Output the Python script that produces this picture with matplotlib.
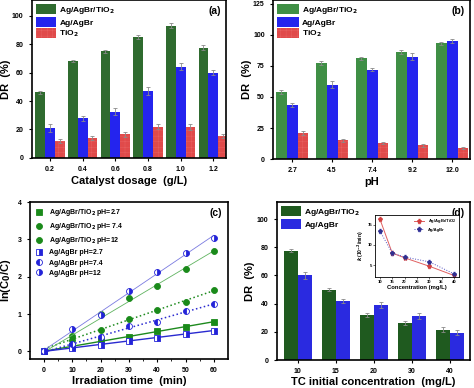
import numpy as np
import matplotlib
matplotlib.use('Agg')
import matplotlib.pyplot as plt

plt.rcParams['font.family'] = ['Liberation Sans', 'DejaVu Sans']
plt.rcParams['font.weight'] = 'bold'
plt.rcParams['axes.labelweight'] = 'bold'
plt.rcParams['axes.linewidth'] = 1.2
plt.rcParams['xtick.major.width'] = 0.8
plt.rcParams['ytick.major.width'] = 0.8
plt.rcParams['xtick.major.size'] = 2.5
plt.rcParams['ytick.major.size'] = 2.5
plt.rcParams['xtick.labelsize'] = 5
plt.rcParams['ytick.labelsize'] = 5
plt.rcParams['hatch.linewidth'] = 0.3

# (a) catalyst dosage
dosage = ['0.2', '0.4', '0.6', '0.8', '1.0', '1.2']
dr_a_comp = [46, 68, 75, 85, 93, 77.5]
dr_a_agbr = [21, 28, 32.5, 47, 64, 60]
dr_a_tio2 = [12, 14, 16.5, 22, 21.5, 15.5]
err_a_comp = [1.2, 0.8, 1.2, 1.5, 1.8, 1.8]
err_a_agbr = [2.5, 1.8, 2.5, 2.5, 2.5, 1.8]
err_a_tio2 = [1.2, 1.5, 1.8, 1.8, 2.0, 1.2]

# (b) pH
ph = ['2.7', '4.5', '7.4', '9.2', '12.0']
dr_b_comp = [54, 77.5, 81, 86, 93]
dr_b_agbr = [43.5, 60, 72, 82.5, 95]
dr_b_tio2 = [21, 15, 13, 11, 9]
err_b_comp = [1.5, 1.5, 1.0, 1.5, 1.5]
err_b_agbr = [1.5, 2.5, 1.5, 3.0, 2.0]
err_b_tio2 = [1.5, 1.5, 1.0, 1.0, 1.0]

# (c) kinetics
t_irr = [0, 10, 20, 30, 40, 50, 60]
c_comp_27 = [0, 0.14, 0.27, 0.4, 0.55, 0.66, 0.79]
c_comp_74 = [0, 0.42, 0.58, 0.86, 1.11, 1.32, 1.65]
c_comp_12 = [0, 0.3, 1.0, 1.43, 1.75, 2.2, 2.7]
c_agbr_27 = [0, 0.1, 0.18, 0.29, 0.37, 0.47, 0.56]
c_agbr_74 = [0, 0.2, 0.38, 0.67, 0.8, 1.09, 1.27]
c_agbr_12 = [0, 0.6, 0.98, 1.62, 2.13, 2.63, 3.05]

# (d) initial concentration
conc = ['10', '15', '20', '30', '40']
dr_d_comp = [77.5, 50, 32, 26.5, 21.5]
dr_d_agbr = [60, 42, 39, 31.5, 19.5]
err_d_comp = [1.2, 1.2, 1.5, 1.5, 1.8]
err_d_agbr = [2.2, 1.5, 2.0, 2.2, 1.5]
inset_conc = [10, 15, 20, 30, 40]
k_comp = [16.5, 8.0, 6.8, 4.7, 2.4]
k_agbr = [13.5, 8.0, 7.0, 5.8, 2.8]

lab_comp = 'Ag/AgBr/TiO$_2$'
lab_agbr = 'Ag/AgBr'
lab_tio2 = 'TiO$_2$'
green_a = '#2f6b2f'
green_b = '#3f8f45'
blue = '#2424ee'
red = '#e04a4a'
ekw = dict(ecolor='#8a8a8a', elinewidth=0.6, capsize=1.2, capthick=0.6)

fig = plt.figure(figsize=(4.74, 3.88), dpi=100)

# ---- (a)
ax = fig.add_axes([0.0675, 0.593, 0.41, 0.407])
x = np.arange(len(dosage))
w = 0.3
ax.bar(x - w, dr_a_comp, w, color=green_a, yerr=err_a_comp, error_kw=ekw, label=lab_comp)
ax.bar(x, dr_a_agbr, w, color=blue, yerr=err_a_agbr, error_kw=ekw, label=lab_agbr)
ax.bar(x + w, dr_a_tio2, w, color=red, yerr=err_a_tio2, error_kw=ekw, label=lab_tio2,
       hatch='+++', edgecolor='#e86464', linewidth=0)
ax.set_xticks(x)
ax.set_xticklabels(dosage)
ax.set_xlim(-0.55, 5.4)
ax.set_ylim(0, 111)
ax.set_yticks([0, 20, 40, 60, 80, 100])
ax.set_xlabel('Catalyst dosage  (g/L)', fontsize=8, labelpad=2)
ax.set_ylabel('DR  (%)', fontsize=8, labelpad=1)
ax.legend(loc='upper left', frameon=False, fontsize=6, handlelength=2.4, handleheight=1.4,
          borderaxespad=0.1, labelspacing=0.15, handletextpad=0.4)
ax.text(0.97, 0.93, '(a)', transform=ax.transAxes, ha='right', va='center', fontsize=7.5)

# ---- (b)
ax = fig.add_axes([0.576, 0.590, 0.416, 0.41])
x = np.arange(len(ph))
w = 0.27
ax.bar(x - w, dr_b_comp, w, color=green_b, yerr=err_b_comp, error_kw=ekw, label=lab_comp)
ax.bar(x, dr_b_agbr, w, color=blue, yerr=err_b_agbr, error_kw=ekw, label=lab_agbr)
ax.bar(x + w, dr_b_tio2, w, color=red, yerr=err_b_tio2, error_kw=ekw, label=lab_tio2,
       hatch='+++', edgecolor='#e86464', linewidth=0)
ax.set_xticks(x)
ax.set_xticklabels(ph)
ax.set_xlim(-0.48, 4.45)
ax.set_ylim(0, 128)
ax.set_yticks([0, 25, 50, 75, 100, 125])
ax.set_xlabel('pH', fontsize=8, labelpad=2)
ax.set_ylabel('DR  (%)', fontsize=8, labelpad=1)
ax.legend(loc='upper left', frameon=False, fontsize=6, handlelength=2.6, handleheight=1.4,
          borderaxespad=0.1, labelspacing=0.15, handletextpad=0.4)
ax.text(0.97, 0.93, '(b)', transform=ax.transAxes, ha='right', va='center', fontsize=7.5)

# ---- (c)
ax = fig.add_axes([0.063, 0.075, 0.418, 0.404])
gdark = '#1e8a1e'
glight = '#5fb35f'
bdark = '#2a2ad0'
blight = '#7a7ae0'
series = [
    (c_comp_27, 's', 'full', gdark, '-', 1.0, lab_comp + ' pH=2.7'),
    (c_comp_74, 'o', 'full', gdark, ':', 1.1, lab_comp + ' pH= 7.4'),
    (c_comp_12, 'o', 'full', glight, '-', 0.6, lab_comp + ' pH=12'),
    (c_agbr_27, 's', 'right', bdark, '-', 1.0, 'Ag/AgBr pH=2.7'),
    (c_agbr_74, 'o', 'left', bdark, ':', 1.1, 'Ag/AgBr pH=7.4'),
    (c_agbr_12, 'o', 'right', blight, '-', 0.6, 'Ag/AgBr pH=12'),
]
tt = np.array(t_irr)
for yv, mk, fs, lc, ls, lw, lab in series:
    p = np.polyfit(tt, yv, 1)
    ax.plot([tt[0], tt[-1]], np.polyval(p, [tt[0], tt[-1]]), color=lc, ls=ls, lw=lw)
    mc = '#1a8a1a' if 'TiO' in lab else '#2323d8'
    ax.plot(tt, yv, ls='none', marker=mk, fillstyle=fs, markersize=4.3, color=mc,
            markerfacecoloralt='white', markeredgecolor=mc, markeredgewidth=0.6, label=lab)
ax.set_xlim(-5, 65)
ax.set_ylim(-0.2, 4.0)
ax.set_xticks([0, 10, 20, 30, 40, 50, 60])
ax.set_xticks([5, 15, 25, 35, 45, 55], minor=True)
ax.set_yticks([0, 1, 2, 3, 4])
ax.tick_params(which='minor', length=1.5)
ax.set_xlabel('Irradiation time  (min)', fontsize=8, labelpad=1)
ax.set_ylabel('ln(C$_0$/C)', fontsize=8, labelpad=3)
ax.legend(loc='upper left', frameon=False, fontsize=5, handlelength=1.2,
          borderaxespad=0.3, labelspacing=0.45, handletextpad=0.8)
ax.text(0.97, 0.93, '(c)', transform=ax.transAxes, ha='right', va='center', fontsize=7.5)

# ---- (d)
ax = fig.add_axes([0.584, 0.072, 0.408, 0.407])
x = np.arange(len(conc))
w = 0.37
ax.bar(x - w / 2, dr_d_comp, w, color='#1f5a1f', yerr=err_d_comp, error_kw=ekw, label=lab_comp)
ax.bar(x + w / 2, dr_d_agbr, w, color='#2a2ae0', yerr=err_d_agbr, error_kw=ekw, label=lab_agbr)
ax.set_xticks(x)
ax.set_xticklabels(conc)
ax.set_xlim(-0.55, 4.53)
ax.set_ylim(0, 112)
ax.set_yticks([0, 20, 40, 60, 80, 100])
ax.set_xlabel('TC initial concentration  (mg/L)', fontsize=8, labelpad=1)
ax.set_ylabel('DR  (%)', fontsize=8, labelpad=1)
ax.legend(loc='upper left', frameon=False, fontsize=6, handlelength=2.4, handleheight=1.4,
          borderaxespad=0.1, labelspacing=0.15, handletextpad=0.4)
ax.text(0.97, 0.93, '(d)', transform=ax.transAxes, ha='right', va='center', fontsize=7.5)

ins = fig.add_axes([0.791, 0.286, 0.177, 0.16])
ins.errorbar(inset_conc, k_comp, yerr=0.4, color='#e06060', marker='*', markersize=3,
             lw=0.7, elinewidth=0.4, capsize=0.8, mec='#d04040', label=lab_comp)
ins.errorbar(inset_conc, k_agbr, yerr=0.4, color='#5050c0', ls=':', marker='*', markersize=3,
             lw=0.7, elinewidth=0.4, capsize=0.8, mec='#303090', label=lab_agbr)
ins.set_xlim(8, 42)
ins.set_ylim(2, 17.5)
ins.set_xticks([10, 15, 20, 25, 30, 35, 40])
ins.set_yticks([5, 10, 15])
for s in ins.spines.values():
    s.set_linewidth(0.6)
ins.tick_params(labelsize=3, length=1.2, width=0.4, pad=1)
ins.set_xlabel('Concentration (mg/L)', fontsize=4.2, labelpad=0.5)
ins.set_ylabel('$k$ (10$^{-2}$/min)', fontsize=3.5, labelpad=1)
ins.legend(loc='upper right', frameon=False, fontsize=3, handlelength=2.5,
           borderaxespad=0.2, labelspacing=0.5)

fig.savefig('out.png', dpi=100)
